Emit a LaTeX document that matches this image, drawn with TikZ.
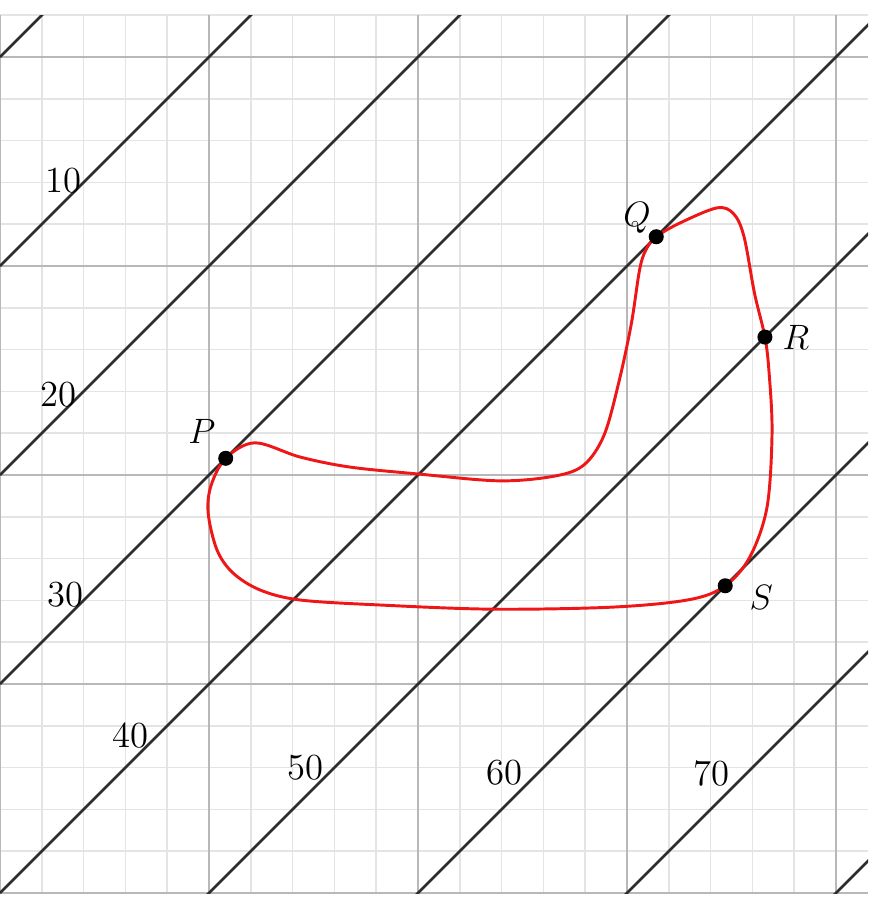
\documentclass[tikz,border=0pt]{standalone}
\usepackage{xcolor}
\usepackage{tikz}
\definecolor{gridminor}{RGB}{228,228,228}
\definecolor{gridmajor}{RGB}{184,184,184}
\definecolor{isoline}{RGB}{45,45,45}
\definecolor{loopred}{RGB}{238,22,22}

\begin{document}
\begin{tikzpicture}[
    x=0.5cm, y=0.5cm,
    minorgrid/.style={draw=gridminor, line width=0.5pt},
    majorgrid/.style={draw=gridmajor, line width=0.7pt},
    iso/.style={draw=isoline, line width=0.9pt},
    redloop/.style={draw=loopred, line width=1pt},
    dot/.style={circle, fill=black, inner sep=0pt, minimum size=1.8mm},
    numlabel/.style={font=\fontsize{12.5}{14}\selectfont, inner sep=0pt},
    ptlabel/.style={font=\fontsize{12}{14}\selectfont, inner sep=0pt}
]
\useasboundingbox (0,-0.1435) rectangle (20.909,21.364);

% grid
\draw[minorgrid] (0,0) grid[step=1] (20.77,21);
\draw[majorgrid] (0,0) grid[step=5] (20.77,21);

% level lines
\begin{scope}
  \clip (0,0) rectangle (20.77,21);
  \foreach \c in {-20,-15,...,20}
    \draw[iso] (0,\c) -- ++(22,22);
\end{scope}

\foreach \v/\lx/\ly in {10/1.51/17.03, 20/1.39/11.91, 30/1.56/7.13, 40/3.13/3.78,
                        50/7.30/2.99, 60/12.08/2.87, 70/17.03/2.85}
  \node[numlabel] (n\v) at (\lx,\ly) {\v};

% closed path through P, Q, R, S
\draw[redloop] plot[smooth cycle, tension=0.55] coordinates {
  (5.40,10.40) (6.10,10.77) (7.18,10.43) (8.37,10.19) (10.05,10.02)
  (11.96,9.86) (13.30,9.98) (13.98,10.25) (14.45,10.95) (14.80,12.20)
  (15.10,13.60) (15.30,14.90) (15.45,15.38) (15.70,15.70) (16.27,16.03)
  (17.15,16.39) (17.55,16.25) (17.80,15.70) (18.05,14.35) (18.30,13.30)
  (18.40,12.44) (18.47,11.00) (18.35,9.23) (17.94,8.04) (17.35,7.35)
  (16.50,7.02) (14.67,6.84) (11.79,6.79) (9.09,6.89)
  (7.18,7.01) (6.22,7.25) (5.57,7.66) (5.19,8.21) (4.98,9.09) (5.05,9.75)
};

\node[dot] (P) at (5.40,10.40) {};
\node[dot] (Q) at (15.70,15.70) {};
\node[dot] (R) at (18.30,13.30) {};
\node[dot] (S) at (17.35,7.35) {};

\node[ptlabel] (lP) at (4.83,11.03) {$P$};
\node[ptlabel] (lQ) at (15.24,16.15) {$Q$};
\node[ptlabel] (lR) at (19.04,13.28) {$R$};
\node[ptlabel] (lS) at (18.21,7.06) {$S$};
\end{tikzpicture}
\end{document}
